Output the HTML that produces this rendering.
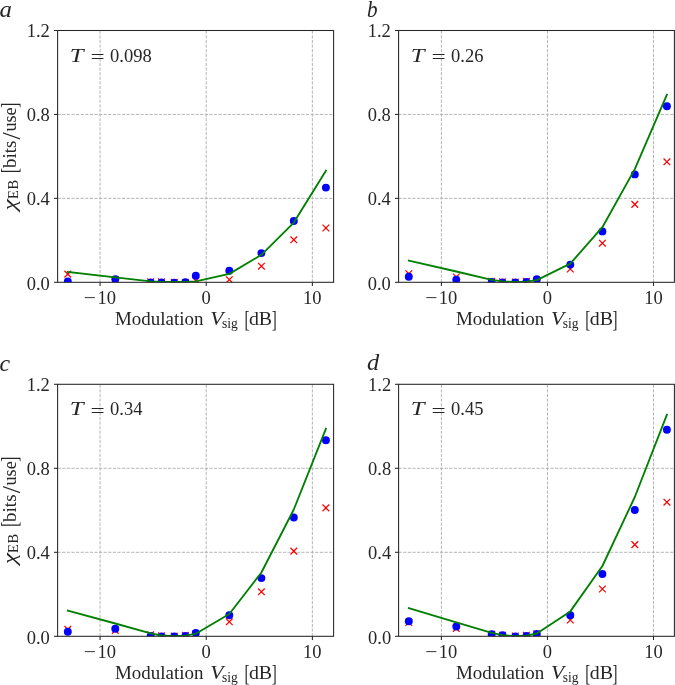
<!DOCTYPE html>
<html lang="en"><head><meta charset="utf-8"><title>Figure</title>
<style>
html,body{margin:0;padding:0;background:#fff;}
body{width:675px;height:685px;overflow:hidden;}
svg{display:block;}
text{font-family:"Liberation Serif", serif;fill:#262626;}
.t{font-size:18.5px;}
.i{font-style:italic;}
</style></head><body>
<svg width="675" height="685" viewBox="0 0 675 685">
<rect width="675" height="685" fill="#fff"/>

<g id="panel-a">
<clipPath id="clip-a"><rect x="57.6" y="30.5" width="276.00" height="251.80"/></clipPath>
<line x1="100.06" y1="282.3" x2="100.06" y2="30.5" stroke="#adadad" stroke-width="0.9" stroke-dasharray="3.2 1.4"/>
<line x1="206.22" y1="282.3" x2="206.22" y2="30.5" stroke="#adadad" stroke-width="0.9" stroke-dasharray="3.2 1.4"/>
<line x1="312.37" y1="282.3" x2="312.37" y2="30.5" stroke="#adadad" stroke-width="0.9" stroke-dasharray="3.2 1.4"/>
<line x1="57.6" y1="198.37" x2="333.6" y2="198.37" stroke="#adadad" stroke-width="0.9" stroke-dasharray="3.2 1.4"/>
<line x1="57.6" y1="114.43" x2="333.6" y2="114.43" stroke="#adadad" stroke-width="0.9" stroke-dasharray="3.2 1.4"/>
<g clip-path="url(#clip-a)">
<path d="M64.45 270.75L71.15 277.45M64.45 277.45L71.15 270.75" stroke="#ff0000" stroke-width="1.25" fill="none"/>
<path d="M111.95 276.25L118.65 282.95M111.95 282.95L118.65 276.25" stroke="#ff0000" stroke-width="1.25" fill="none"/>
<path d="M147.35 278.55L154.05 285.25M147.35 285.25L154.05 278.55" stroke="#ff0000" stroke-width="1.25" fill="none"/>
<path d="M158.15 278.55L164.85 285.25M158.15 285.25L164.85 278.55" stroke="#ff0000" stroke-width="1.25" fill="none"/>
<path d="M170.95 278.95L177.65 285.65M170.95 285.65L177.65 278.95" stroke="#ff0000" stroke-width="1.25" fill="none"/>
<path d="M182.05 279.15L188.75 285.85M182.05 285.85L188.75 279.15" stroke="#ff0000" stroke-width="1.25" fill="none"/>
<path d="M192.45 277.35L199.15 284.05M192.45 284.05L199.15 277.35" stroke="#ff0000" stroke-width="1.25" fill="none"/>
<path d="M225.95 276.35L232.65 283.05M225.95 283.05L232.65 276.35" stroke="#ff0000" stroke-width="1.25" fill="none"/>
<path d="M258.05 262.85L264.75 269.55M258.05 269.55L264.75 262.85" stroke="#ff0000" stroke-width="1.25" fill="none"/>
<path d="M290.45 236.45L297.15 243.15M290.45 243.15L297.15 236.45" stroke="#ff0000" stroke-width="1.25" fill="none"/>
<path d="M322.55 224.65L329.25 231.35M322.55 231.35L329.25 224.65" stroke="#ff0000" stroke-width="1.25" fill="none"/>
<circle cx="67.80" cy="281.50" r="3.95" fill="#0000ff"/>
<circle cx="115.30" cy="279.30" r="3.95" fill="#0000ff"/>
<circle cx="150.70" cy="282.50" r="3.95" fill="#0000ff"/>
<circle cx="161.50" cy="282.50" r="3.95" fill="#0000ff"/>
<circle cx="174.30" cy="282.80" r="3.95" fill="#0000ff"/>
<circle cx="185.40" cy="282.10" r="3.95" fill="#0000ff"/>
<circle cx="195.80" cy="275.70" r="3.95" fill="#0000ff"/>
<circle cx="229.30" cy="270.70" r="3.95" fill="#0000ff"/>
<circle cx="261.40" cy="253.10" r="3.95" fill="#0000ff"/>
<circle cx="293.80" cy="221.00" r="3.95" fill="#0000ff"/>
<circle cx="325.90" cy="187.60" r="3.95" fill="#0000ff"/>
<polyline points="67.80,272.00 115.30,277.30 150.70,281.30 161.50,281.80 174.30,282.00 185.40,281.80 195.80,281.30 229.30,273.90 261.40,254.80 293.80,222.60 325.90,170.80" fill="none" stroke="#008000" stroke-width="1.85" stroke-linejoin="round" stroke-linecap="square"/>
</g>
<rect x="57.6" y="30.5" width="276.00" height="251.80" fill="none" stroke="#262626" stroke-width="1.05"/>
<line x1="100.06" y1="282.3" x2="100.06" y2="286.1" stroke="#262626" stroke-width="1.05"/>
<text class="t" x="83.86" y="303.70" textLength="12.2" lengthAdjust="spacingAndGlyphs">−</text>
<text class="t" x="97.46" y="303.70">10</text>
<line x1="206.22" y1="282.3" x2="206.22" y2="286.1" stroke="#262626" stroke-width="1.05"/>
<text class="t" x="206.22" y="303.70" text-anchor="middle">0</text>
<line x1="312.37" y1="282.3" x2="312.37" y2="286.1" stroke="#262626" stroke-width="1.05"/>
<text class="t" x="312.37" y="303.70" text-anchor="middle">10</text>
<line x1="54.0" y1="282.30" x2="57.6" y2="282.30" stroke="#262626" stroke-width="1.05"/>
<text class="t" x="49.80" y="289.50" text-anchor="end">0.0</text>
<line x1="54.0" y1="198.37" x2="57.6" y2="198.37" stroke="#262626" stroke-width="1.05"/>
<text class="t" x="49.80" y="205.47" text-anchor="end">0.4</text>
<line x1="54.0" y1="114.43" x2="57.6" y2="114.43" stroke="#262626" stroke-width="1.05"/>
<text class="t" x="49.80" y="120.73" text-anchor="end">0.8</text>
<line x1="54.0" y1="30.50" x2="57.6" y2="30.50" stroke="#262626" stroke-width="1.05"/>
<text class="t" x="49.80" y="36.90" text-anchor="end">1.2</text>
<text class="i" x="-0.40" y="16.60" font-size="23" textLength="12.4" lengthAdjust="spacingAndGlyphs">a</text>
<text class="t i" x="69.80" y="61.50" textLength="13.8" lengthAdjust="spacingAndGlyphs">T</text>
<text class="t" x="90.60" y="63.40" textLength="14.2" lengthAdjust="spacingAndGlyphs">=</text>
<text class="t" x="110.00" y="61.50">0.098</text>
<text x="115.00" y="325.40" font-size="19.2" textLength="88.4" lengthAdjust="spacingAndGlyphs">Modulation</text>
<text class="i" x="210.20" y="325.40" font-size="19.2" textLength="13.2" lengthAdjust="spacingAndGlyphs">V</text>
<text x="221.90" y="328.10" font-size="14" textLength="15.8" lengthAdjust="spacingAndGlyphs">sig</text>
<text x="244.40" y="326.70" font-size="23" textLength="5" lengthAdjust="spacingAndGlyphs">[</text>
<text x="248.90" y="325.40" font-size="19.2" textLength="23.2" lengthAdjust="spacingAndGlyphs">dB</text>
<text x="271.70" y="326.70" font-size="23" textLength="5" lengthAdjust="spacingAndGlyphs">]</text>
<g transform="translate(15.50 156.40) rotate(-90)">
<text class="i" font-size="18.8" x="-54.0" y="0" textLength="11.2" lengthAdjust="spacingAndGlyphs">χ</text>
<text font-size="14.4" x="-42.6" y="2.7" textLength="19.0">EB</text>
<text x="-16.5" y="1.3" font-size="23" textLength="5" lengthAdjust="spacingAndGlyphs">[</text>
<text x="-11.6" y="0" font-size="19" textLength="27.4" lengthAdjust="spacingAndGlyphs">bits</text>
<text x="17.0" y="4.2" font-size="26">/</text>
<text x="24.8" y="0" font-size="19" textLength="24.2" lengthAdjust="spacingAndGlyphs">use</text>
<text x="48.6" y="1.3" font-size="23" textLength="5" lengthAdjust="spacingAndGlyphs">]</text>
</g>
</g>
<g id="panel-b">
<clipPath id="clip-b"><rect x="398.6" y="30.5" width="275.80" height="251.80"/></clipPath>
<line x1="441.38" y1="282.3" x2="441.38" y2="30.5" stroke="#adadad" stroke-width="0.9" stroke-dasharray="3.2 1.4"/>
<line x1="547.46" y1="282.3" x2="547.46" y2="30.5" stroke="#adadad" stroke-width="0.9" stroke-dasharray="3.2 1.4"/>
<line x1="653.53" y1="282.3" x2="653.53" y2="30.5" stroke="#adadad" stroke-width="0.9" stroke-dasharray="3.2 1.4"/>
<line x1="398.6" y1="198.37" x2="674.4" y2="198.37" stroke="#adadad" stroke-width="0.9" stroke-dasharray="3.2 1.4"/>
<line x1="398.6" y1="114.43" x2="674.4" y2="114.43" stroke="#adadad" stroke-width="0.9" stroke-dasharray="3.2 1.4"/>
<g clip-path="url(#clip-b)">
<path d="M405.45 270.35L412.15 277.05M405.45 277.05L412.15 270.35" stroke="#ff0000" stroke-width="1.25" fill="none"/>
<path d="M452.95 273.65L459.65 280.35M452.95 280.35L459.65 273.65" stroke="#ff0000" stroke-width="1.25" fill="none"/>
<path d="M488.35 277.85L495.05 284.55M488.35 284.55L495.05 277.85" stroke="#ff0000" stroke-width="1.25" fill="none"/>
<path d="M499.15 278.45L505.85 285.15M499.15 285.15L505.85 278.45" stroke="#ff0000" stroke-width="1.25" fill="none"/>
<path d="M511.95 278.75L518.65 285.45M511.95 285.45L518.65 278.75" stroke="#ff0000" stroke-width="1.25" fill="none"/>
<path d="M523.05 277.95L529.75 284.65M523.05 284.65L529.75 277.95" stroke="#ff0000" stroke-width="1.25" fill="none"/>
<path d="M533.45 276.95L540.15 283.65M533.45 283.65L540.15 276.95" stroke="#ff0000" stroke-width="1.25" fill="none"/>
<path d="M566.95 265.65L573.65 272.35M566.95 272.35L573.65 265.65" stroke="#ff0000" stroke-width="1.25" fill="none"/>
<path d="M599.05 239.85L605.75 246.55M599.05 246.55L605.75 239.85" stroke="#ff0000" stroke-width="1.25" fill="none"/>
<path d="M631.45 201.05L638.15 207.75M631.45 207.75L638.15 201.05" stroke="#ff0000" stroke-width="1.25" fill="none"/>
<path d="M663.55 158.45L670.25 165.15M663.55 165.15L670.25 158.45" stroke="#ff0000" stroke-width="1.25" fill="none"/>
<circle cx="408.80" cy="276.80" r="3.95" fill="#0000ff"/>
<circle cx="456.30" cy="279.60" r="3.95" fill="#0000ff"/>
<circle cx="491.70" cy="281.90" r="3.95" fill="#0000ff"/>
<circle cx="502.50" cy="282.40" r="3.95" fill="#0000ff"/>
<circle cx="515.30" cy="282.50" r="3.95" fill="#0000ff"/>
<circle cx="526.40" cy="281.90" r="3.95" fill="#0000ff"/>
<circle cx="536.80" cy="279.20" r="3.95" fill="#0000ff"/>
<circle cx="570.30" cy="264.60" r="3.95" fill="#0000ff"/>
<circle cx="602.40" cy="231.40" r="3.95" fill="#0000ff"/>
<circle cx="634.80" cy="174.40" r="3.95" fill="#0000ff"/>
<circle cx="666.90" cy="106.20" r="3.95" fill="#0000ff"/>
<polyline points="408.80,260.60 456.30,271.50 491.70,279.80 502.50,281.40 515.30,282.00 526.40,281.60 536.80,280.10 570.30,263.60 602.40,227.20 634.80,169.10 666.90,94.80" fill="none" stroke="#008000" stroke-width="1.85" stroke-linejoin="round" stroke-linecap="square"/>
</g>
<rect x="398.6" y="30.5" width="275.80" height="251.80" fill="none" stroke="#262626" stroke-width="1.05"/>
<line x1="441.38" y1="282.3" x2="441.38" y2="286.1" stroke="#262626" stroke-width="1.05"/>
<text class="t" x="425.18" y="303.70" textLength="12.2" lengthAdjust="spacingAndGlyphs">−</text>
<text class="t" x="438.78" y="303.70">10</text>
<line x1="547.46" y1="282.3" x2="547.46" y2="286.1" stroke="#262626" stroke-width="1.05"/>
<text class="t" x="547.46" y="303.70" text-anchor="middle">0</text>
<line x1="653.53" y1="282.3" x2="653.53" y2="286.1" stroke="#262626" stroke-width="1.05"/>
<text class="t" x="653.53" y="303.70" text-anchor="middle">10</text>
<line x1="395.0" y1="282.30" x2="398.6" y2="282.30" stroke="#262626" stroke-width="1.05"/>
<text class="t" x="390.80" y="289.50" text-anchor="end">0.0</text>
<line x1="395.0" y1="198.37" x2="398.6" y2="198.37" stroke="#262626" stroke-width="1.05"/>
<text class="t" x="390.80" y="205.47" text-anchor="end">0.4</text>
<line x1="395.0" y1="114.43" x2="398.6" y2="114.43" stroke="#262626" stroke-width="1.05"/>
<text class="t" x="390.80" y="120.73" text-anchor="end">0.8</text>
<line x1="395.0" y1="30.50" x2="398.6" y2="30.50" stroke="#262626" stroke-width="1.05"/>
<text class="t" x="390.80" y="36.90" text-anchor="end">1.2</text>
<text class="i" x="367.00" y="16.90" font-size="23" textLength="10.6" lengthAdjust="spacingAndGlyphs">b</text>
<text class="t i" x="410.80" y="61.50" textLength="13.8" lengthAdjust="spacingAndGlyphs">T</text>
<text class="t" x="431.60" y="63.40" textLength="14.2" lengthAdjust="spacingAndGlyphs">=</text>
<text class="t" x="451.00" y="61.50">0.26</text>
<text x="455.90" y="325.40" font-size="19.2" textLength="88.4" lengthAdjust="spacingAndGlyphs">Modulation</text>
<text class="i" x="551.10" y="325.40" font-size="19.2" textLength="13.2" lengthAdjust="spacingAndGlyphs">V</text>
<text x="562.80" y="328.10" font-size="14" textLength="15.8" lengthAdjust="spacingAndGlyphs">sig</text>
<text x="585.30" y="326.70" font-size="23" textLength="5" lengthAdjust="spacingAndGlyphs">[</text>
<text x="589.80" y="325.40" font-size="19.2" textLength="23.2" lengthAdjust="spacingAndGlyphs">dB</text>
<text x="612.60" y="326.70" font-size="23" textLength="5" lengthAdjust="spacingAndGlyphs">]</text>
</g>
<g id="panel-c">
<clipPath id="clip-c"><rect x="57.6" y="384.3" width="276.00" height="252.00"/></clipPath>
<line x1="100.06" y1="636.3" x2="100.06" y2="384.3" stroke="#adadad" stroke-width="0.9" stroke-dasharray="3.2 1.4"/>
<line x1="206.22" y1="636.3" x2="206.22" y2="384.3" stroke="#adadad" stroke-width="0.9" stroke-dasharray="3.2 1.4"/>
<line x1="312.37" y1="636.3" x2="312.37" y2="384.3" stroke="#adadad" stroke-width="0.9" stroke-dasharray="3.2 1.4"/>
<line x1="57.6" y1="552.30" x2="333.6" y2="552.30" stroke="#adadad" stroke-width="0.9" stroke-dasharray="3.2 1.4"/>
<line x1="57.6" y1="468.30" x2="333.6" y2="468.30" stroke="#adadad" stroke-width="0.9" stroke-dasharray="3.2 1.4"/>
<g clip-path="url(#clip-c)">
<path d="M64.45 625.95L71.15 632.65M64.45 632.65L71.15 625.95" stroke="#ff0000" stroke-width="1.25" fill="none"/>
<path d="M111.95 627.05L118.65 633.75M111.95 633.75L118.65 627.05" stroke="#ff0000" stroke-width="1.25" fill="none"/>
<path d="M147.35 631.45L154.05 638.15M147.35 638.15L154.05 631.45" stroke="#ff0000" stroke-width="1.25" fill="none"/>
<path d="M158.15 632.45L164.85 639.15M158.15 639.15L164.85 632.45" stroke="#ff0000" stroke-width="1.25" fill="none"/>
<path d="M170.95 632.75L177.65 639.45M170.95 639.45L177.65 632.75" stroke="#ff0000" stroke-width="1.25" fill="none"/>
<path d="M182.05 631.95L188.75 638.65M182.05 638.65L188.75 631.95" stroke="#ff0000" stroke-width="1.25" fill="none"/>
<path d="M192.45 630.45L199.15 637.15M192.45 637.15L199.15 630.45" stroke="#ff0000" stroke-width="1.25" fill="none"/>
<path d="M225.95 618.45L232.65 625.15M225.95 625.15L232.65 618.45" stroke="#ff0000" stroke-width="1.25" fill="none"/>
<path d="M258.05 588.45L264.75 595.15M258.05 595.15L264.75 588.45" stroke="#ff0000" stroke-width="1.25" fill="none"/>
<path d="M290.45 547.75L297.15 554.45M290.45 554.45L297.15 547.75" stroke="#ff0000" stroke-width="1.25" fill="none"/>
<path d="M322.55 504.55L329.25 511.25M322.55 511.25L329.25 504.55" stroke="#ff0000" stroke-width="1.25" fill="none"/>
<circle cx="67.80" cy="631.70" r="3.95" fill="#0000ff"/>
<circle cx="115.30" cy="628.70" r="3.95" fill="#0000ff"/>
<circle cx="150.70" cy="636.00" r="3.95" fill="#0000ff"/>
<circle cx="161.50" cy="636.50" r="3.95" fill="#0000ff"/>
<circle cx="174.30" cy="636.50" r="3.95" fill="#0000ff"/>
<circle cx="185.40" cy="636.00" r="3.95" fill="#0000ff"/>
<circle cx="195.80" cy="632.90" r="3.95" fill="#0000ff"/>
<circle cx="229.30" cy="615.20" r="3.95" fill="#0000ff"/>
<circle cx="261.40" cy="578.10" r="3.95" fill="#0000ff"/>
<circle cx="293.80" cy="517.50" r="3.95" fill="#0000ff"/>
<circle cx="325.90" cy="440.20" r="3.95" fill="#0000ff"/>
<polyline points="67.80,610.60 115.30,623.50 150.70,633.40 161.50,635.50 174.30,636.10 185.40,635.60 195.80,633.70 229.30,614.00 261.40,572.50 293.80,509.50 325.90,428.80" fill="none" stroke="#008000" stroke-width="1.85" stroke-linejoin="round" stroke-linecap="square"/>
</g>
<rect x="57.6" y="384.3" width="276.00" height="252.00" fill="none" stroke="#262626" stroke-width="1.05"/>
<line x1="100.06" y1="636.3" x2="100.06" y2="640.0999999999999" stroke="#262626" stroke-width="1.05"/>
<text class="t" x="83.86" y="657.70" textLength="12.2" lengthAdjust="spacingAndGlyphs">−</text>
<text class="t" x="97.46" y="657.70">10</text>
<line x1="206.22" y1="636.3" x2="206.22" y2="640.0999999999999" stroke="#262626" stroke-width="1.05"/>
<text class="t" x="206.22" y="657.70" text-anchor="middle">0</text>
<line x1="312.37" y1="636.3" x2="312.37" y2="640.0999999999999" stroke="#262626" stroke-width="1.05"/>
<text class="t" x="312.37" y="657.70" text-anchor="middle">10</text>
<line x1="54.0" y1="636.30" x2="57.6" y2="636.30" stroke="#262626" stroke-width="1.05"/>
<text class="t" x="49.80" y="643.50" text-anchor="end">0.0</text>
<line x1="54.0" y1="552.30" x2="57.6" y2="552.30" stroke="#262626" stroke-width="1.05"/>
<text class="t" x="49.80" y="559.40" text-anchor="end">0.4</text>
<line x1="54.0" y1="468.30" x2="57.6" y2="468.30" stroke="#262626" stroke-width="1.05"/>
<text class="t" x="49.80" y="474.60" text-anchor="end">0.8</text>
<line x1="54.0" y1="384.30" x2="57.6" y2="384.30" stroke="#262626" stroke-width="1.05"/>
<text class="t" x="49.80" y="390.70" text-anchor="end">1.2</text>
<text class="i" x="-0.60" y="371.10" font-size="23" textLength="10.6" lengthAdjust="spacingAndGlyphs">c</text>
<text class="t i" x="69.80" y="415.30" textLength="13.8" lengthAdjust="spacingAndGlyphs">T</text>
<text class="t" x="90.60" y="417.20" textLength="14.2" lengthAdjust="spacingAndGlyphs">=</text>
<text class="t" x="110.00" y="415.30">0.34</text>
<text x="115.00" y="679.40" font-size="19.2" textLength="88.4" lengthAdjust="spacingAndGlyphs">Modulation</text>
<text class="i" x="210.20" y="679.40" font-size="19.2" textLength="13.2" lengthAdjust="spacingAndGlyphs">V</text>
<text x="221.90" y="682.10" font-size="14" textLength="15.8" lengthAdjust="spacingAndGlyphs">sig</text>
<text x="244.40" y="680.70" font-size="23" textLength="5" lengthAdjust="spacingAndGlyphs">[</text>
<text x="248.90" y="679.40" font-size="19.2" textLength="23.2" lengthAdjust="spacingAndGlyphs">dB</text>
<text x="271.70" y="680.70" font-size="23" textLength="5" lengthAdjust="spacingAndGlyphs">]</text>
<g transform="translate(15.50 510.30) rotate(-90)">
<text class="i" font-size="18.8" x="-54.0" y="0" textLength="11.2" lengthAdjust="spacingAndGlyphs">χ</text>
<text font-size="14.4" x="-42.6" y="2.7" textLength="19.0">EB</text>
<text x="-16.5" y="1.3" font-size="23" textLength="5" lengthAdjust="spacingAndGlyphs">[</text>
<text x="-11.6" y="0" font-size="19" textLength="27.4" lengthAdjust="spacingAndGlyphs">bits</text>
<text x="17.0" y="4.2" font-size="26">/</text>
<text x="24.8" y="0" font-size="19" textLength="24.2" lengthAdjust="spacingAndGlyphs">use</text>
<text x="48.6" y="1.3" font-size="23" textLength="5" lengthAdjust="spacingAndGlyphs">]</text>
</g>
</g>
<g id="panel-d">
<clipPath id="clip-d"><rect x="398.6" y="384.3" width="275.80" height="252.00"/></clipPath>
<line x1="441.38" y1="636.3" x2="441.38" y2="384.3" stroke="#adadad" stroke-width="0.9" stroke-dasharray="3.2 1.4"/>
<line x1="547.46" y1="636.3" x2="547.46" y2="384.3" stroke="#adadad" stroke-width="0.9" stroke-dasharray="3.2 1.4"/>
<line x1="653.53" y1="636.3" x2="653.53" y2="384.3" stroke="#adadad" stroke-width="0.9" stroke-dasharray="3.2 1.4"/>
<line x1="398.6" y1="552.30" x2="674.4" y2="552.30" stroke="#adadad" stroke-width="0.9" stroke-dasharray="3.2 1.4"/>
<line x1="398.6" y1="468.30" x2="674.4" y2="468.30" stroke="#adadad" stroke-width="0.9" stroke-dasharray="3.2 1.4"/>
<g clip-path="url(#clip-d)">
<path d="M405.45 619.15L412.15 625.85M405.45 625.85L412.15 619.15" stroke="#ff0000" stroke-width="1.25" fill="none"/>
<path d="M452.95 625.05L459.65 631.75M452.95 631.75L459.65 625.05" stroke="#ff0000" stroke-width="1.25" fill="none"/>
<path d="M488.35 630.85L495.05 637.55M488.35 637.55L495.05 630.85" stroke="#ff0000" stroke-width="1.25" fill="none"/>
<path d="M499.15 631.85L505.85 638.55M499.15 638.55L505.85 631.85" stroke="#ff0000" stroke-width="1.25" fill="none"/>
<path d="M511.95 632.65L518.65 639.35M511.95 639.35L518.65 632.65" stroke="#ff0000" stroke-width="1.25" fill="none"/>
<path d="M523.05 631.85L529.75 638.55M523.05 638.55L529.75 631.85" stroke="#ff0000" stroke-width="1.25" fill="none"/>
<path d="M533.45 630.45L540.15 637.15M533.45 637.15L540.15 630.45" stroke="#ff0000" stroke-width="1.25" fill="none"/>
<path d="M566.95 616.65L573.65 623.35M566.95 623.35L573.65 616.65" stroke="#ff0000" stroke-width="1.25" fill="none"/>
<path d="M599.05 585.65L605.75 592.35M599.05 592.35L605.75 585.65" stroke="#ff0000" stroke-width="1.25" fill="none"/>
<path d="M631.45 541.25L638.15 547.95M631.45 547.95L638.15 541.25" stroke="#ff0000" stroke-width="1.25" fill="none"/>
<path d="M663.55 498.85L670.25 505.55M663.55 505.55L670.25 498.85" stroke="#ff0000" stroke-width="1.25" fill="none"/>
<circle cx="408.80" cy="621.30" r="3.95" fill="#0000ff"/>
<circle cx="456.30" cy="626.50" r="3.95" fill="#0000ff"/>
<circle cx="491.70" cy="634.30" r="3.95" fill="#0000ff"/>
<circle cx="502.50" cy="635.20" r="3.95" fill="#0000ff"/>
<circle cx="515.30" cy="636.50" r="3.95" fill="#0000ff"/>
<circle cx="526.40" cy="635.90" r="3.95" fill="#0000ff"/>
<circle cx="536.80" cy="634.00" r="3.95" fill="#0000ff"/>
<circle cx="570.30" cy="615.20" r="3.95" fill="#0000ff"/>
<circle cx="602.40" cy="574.00" r="3.95" fill="#0000ff"/>
<circle cx="634.80" cy="510.00" r="3.95" fill="#0000ff"/>
<circle cx="666.90" cy="429.80" r="3.95" fill="#0000ff"/>
<polyline points="408.80,608.20 456.30,622.30 491.70,632.90 502.50,635.20 515.30,636.10 526.40,635.70 536.80,633.50 570.30,611.40 602.40,566.00 634.80,497.00 666.90,414.80" fill="none" stroke="#008000" stroke-width="1.85" stroke-linejoin="round" stroke-linecap="square"/>
</g>
<rect x="398.6" y="384.3" width="275.80" height="252.00" fill="none" stroke="#262626" stroke-width="1.05"/>
<line x1="441.38" y1="636.3" x2="441.38" y2="640.0999999999999" stroke="#262626" stroke-width="1.05"/>
<text class="t" x="425.18" y="657.70" textLength="12.2" lengthAdjust="spacingAndGlyphs">−</text>
<text class="t" x="438.78" y="657.70">10</text>
<line x1="547.46" y1="636.3" x2="547.46" y2="640.0999999999999" stroke="#262626" stroke-width="1.05"/>
<text class="t" x="547.46" y="657.70" text-anchor="middle">0</text>
<line x1="653.53" y1="636.3" x2="653.53" y2="640.0999999999999" stroke="#262626" stroke-width="1.05"/>
<text class="t" x="653.53" y="657.70" text-anchor="middle">10</text>
<line x1="395.0" y1="636.30" x2="398.6" y2="636.30" stroke="#262626" stroke-width="1.05"/>
<text class="t" x="391.20" y="643.50" text-anchor="end">0.0</text>
<line x1="395.0" y1="552.30" x2="398.6" y2="552.30" stroke="#262626" stroke-width="1.05"/>
<text class="t" x="391.20" y="559.40" text-anchor="end">0.4</text>
<line x1="395.0" y1="468.30" x2="398.6" y2="468.30" stroke="#262626" stroke-width="1.05"/>
<text class="t" x="391.20" y="474.60" text-anchor="end">0.8</text>
<line x1="395.0" y1="384.30" x2="398.6" y2="384.30" stroke="#262626" stroke-width="1.05"/>
<text class="t" x="391.20" y="390.70" text-anchor="end">1.2</text>
<text class="i" x="367.00" y="370.20" font-size="23" textLength="12.2" lengthAdjust="spacingAndGlyphs">d</text>
<text class="t i" x="410.80" y="415.30" textLength="13.8" lengthAdjust="spacingAndGlyphs">T</text>
<text class="t" x="431.60" y="417.20" textLength="14.2" lengthAdjust="spacingAndGlyphs">=</text>
<text class="t" x="451.00" y="415.30">0.45</text>
<text x="455.90" y="679.40" font-size="19.2" textLength="88.4" lengthAdjust="spacingAndGlyphs">Modulation</text>
<text class="i" x="551.10" y="679.40" font-size="19.2" textLength="13.2" lengthAdjust="spacingAndGlyphs">V</text>
<text x="562.80" y="682.10" font-size="14" textLength="15.8" lengthAdjust="spacingAndGlyphs">sig</text>
<text x="585.30" y="680.70" font-size="23" textLength="5" lengthAdjust="spacingAndGlyphs">[</text>
<text x="589.80" y="679.40" font-size="19.2" textLength="23.2" lengthAdjust="spacingAndGlyphs">dB</text>
<text x="612.60" y="680.70" font-size="23" textLength="5" lengthAdjust="spacingAndGlyphs">]</text>
</g>
</svg></body></html>
